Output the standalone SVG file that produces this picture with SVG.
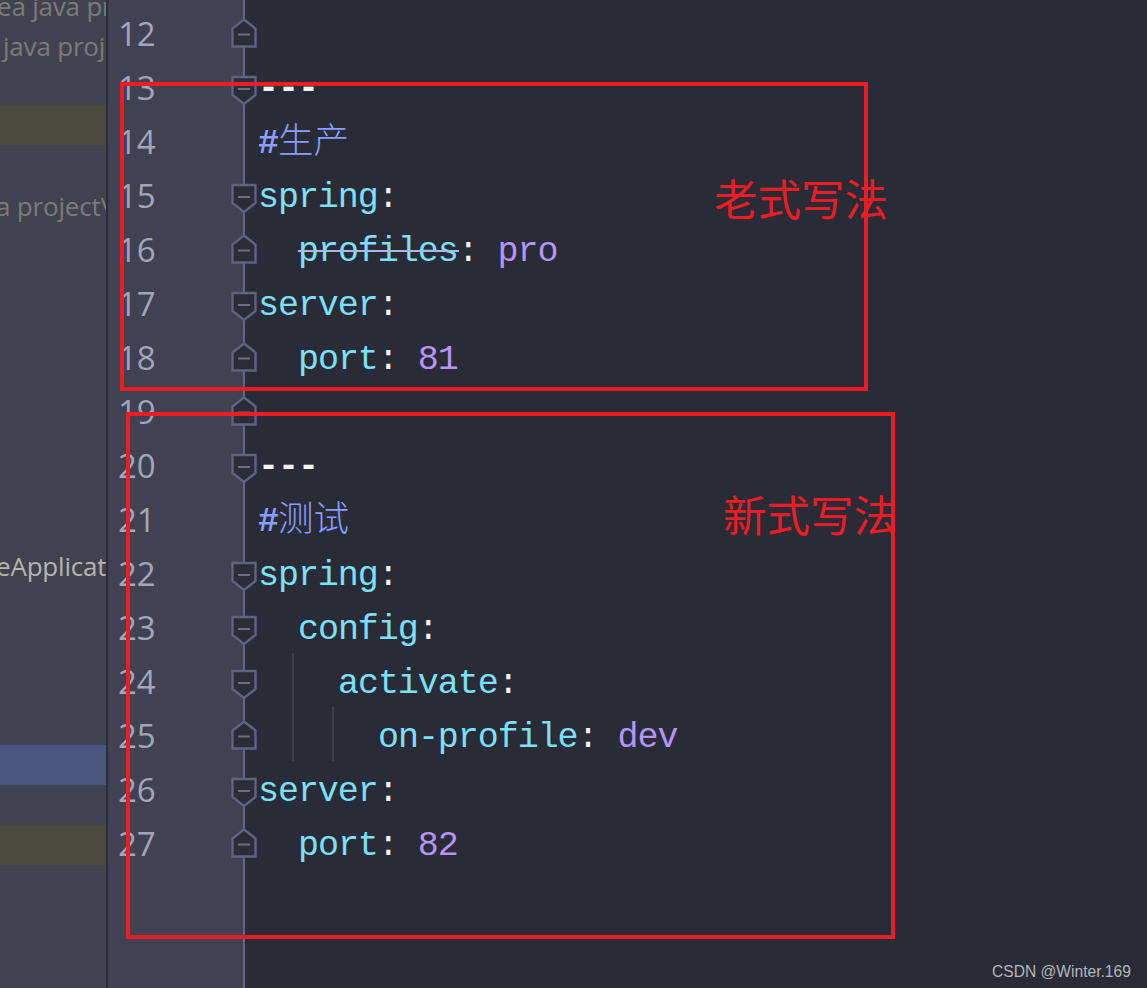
<svg xmlns="http://www.w3.org/2000/svg" width="1147" height="988" viewBox="0 0 1147 988">
<style>
.c{font-family:"Liberation Mono","Noto Sans CJK SC",monospace;font-size:35px;letter-spacing:-1.05px}
.k{fill:#7de0f7}.p{fill:#f2f2ee}.v{fill:#b794f6}.cm{fill:#8a9eff}
.z{font-family:"Noto Sans CJK SC",sans-serif;font-size:35.500px;letter-spacing:0;font-weight:300}
.n{font-family:"Open Sans",sans-serif;font-size:33px;fill:#a3a5b8}
.s{font-family:"Open Sans",sans-serif;font-size:26px;letter-spacing:-.2px;fill:#7b7b78}
.f{fill:#2a2c38;stroke:#5f6280;stroke-width:2.4}
.m{stroke:#6a6d88;stroke-width:2}
.r{fill:none;stroke:#ec1c24;stroke-width:4}
.h{font-family:"Noto Sans CJK SC",sans-serif;font-size:43.500px;fill:#ec1c24}
.g{stroke:#3c3e4b;stroke-width:2}
</style>
<rect width="1147" height="988" fill="#292b36"/>
<g id="sidebar">
<rect x="0" width="106" height="988" fill="#41424f"/>
<rect x="106" width="2" height="988" fill="#2a2c38"/>
<rect x="0" y="105" width="106" height="40" fill="#4c493f"/>
<rect x="0" y="745" width="106" height="40" fill="#4b5680"/>
<rect x="0" y="825" width="106" height="40" fill="#4c493f"/>
<svg x="0" y="0" width="106" height="988" viewBox="0 0 106 988">
<text class="s" x="-3" y="16">ea java pr</text>
<text class="s" x="3" y="56">java proje</text>
<text class="s" x="-4" y="216">a project\</text>
<text class="s" x="-4" y="576" style="fill:#b5b5ae">eApplicati</text>
</svg>
</g>
<g id="gutter">
<rect x="108" width="136" height="988" fill="#404152"/>
<rect x="243" width="2" height="988" fill="#62658a"/>
<text class="n" x="118" y="46">12</text><text class="n" x="118" y="100">13</text><text class="n" x="118" y="154">14</text><text class="n" x="118" y="208">15</text><text class="n" x="118" y="262">16</text><text class="n" x="118" y="316">17</text><text class="n" x="118" y="370">18</text><text class="n" x="118" y="424">19</text><text class="n" x="118" y="478">20</text><text class="n" x="118" y="532">21</text><text class="n" x="118" y="586">22</text><text class="n" x="118" y="640">23</text><text class="n" x="118" y="694">24</text><text class="n" x="118" y="748">25</text><text class="n" x="118" y="802">26</text><text class="n" x="118" y="856">27</text>
</g>
<defs>
<g id="up"><path class="f" d="M-11.500 12V-6L0-15 11.500-6V12Z"/><path class="m" d="M-6 0H6"/></g>
<g id="dn"><path class="f" d="M-11.500-12V6L0 15 11.500 6V-12Z"/><path class="m" d="M-6 0H6"/></g>
</defs>
<g id="folds">
<use href="#up" x="244" y="34.500"/><use href="#dn" x="244" y="89"/><use href="#dn" x="244" y="197"/><use href="#up" x="244" y="250.500"/><use href="#dn" x="244" y="305"/><use href="#up" x="244" y="358.500"/><use href="#up" x="244" y="412.500"/><use href="#dn" x="244" y="467"/><use href="#dn" x="244" y="575"/><use href="#dn" x="244" y="629"/><use href="#dn" x="244" y="683"/><use href="#up" x="244" y="736.500"/><use href="#dn" x="244" y="791"/><use href="#up" x="244" y="844.500"/>
</g>
<g id="indent">
<path class="g" d="M293 653V761M333 707V761"/>
</g>
<g id="code" class="c">
<text x="258" y="98" class="p" font-weight="700">---</text>
<text x="258" y="153" class="cm"><tspan font-weight="700">#</tspan><tspan class="z">生产</tspan></text>
<text x="258" y="207"><tspan class="k">spring</tspan><tspan class="p">:</tspan></text>
<text x="298" y="261"><tspan class="k">profiles</tspan><tspan class="p">: </tspan><tspan class="v">pro</tspan></text>
<path d="M298 251H459" stroke="#a9b8e8" stroke-width="2"/>
<text x="258" y="315"><tspan class="k">server</tspan><tspan class="p">:</tspan></text>
<text x="298" y="369"><tspan class="k">port</tspan><tspan class="p">: </tspan><tspan class="v">81</tspan></text>
<text x="258" y="476" class="p" font-weight="700">---</text>
<text x="258" y="531" class="cm"><tspan font-weight="700">#</tspan><tspan class="z">测试</tspan></text>
<text x="258" y="585"><tspan class="k">spring</tspan><tspan class="p">:</tspan></text>
<text x="298" y="639"><tspan class="k">config</tspan><tspan class="p">:</tspan></text>
<text x="338" y="693"><tspan class="k">activate</tspan><tspan class="p">:</tspan></text>
<text x="378" y="747"><tspan class="k">on-profile</tspan><tspan class="p">: </tspan><tspan class="v">dev</tspan></text>
<text x="258" y="801"><tspan class="k">server</tspan><tspan class="p">:</tspan></text>
<text x="298" y="855"><tspan class="k">port</tspan><tspan class="p">: </tspan><tspan class="v">82</tspan></text>
</g>
<g id="old-style">
<rect class="r" x="122" y="84" width="744" height="305"/>
<text class="h" x="714" y="216">老式写法</text>
</g>
<g id="new-style">
<rect class="r" x="128" y="414" width="765" height="523"/>
<text class="h" x="723" y="532">新式写法</text>
</g>
<text id="watermark" x="992" y="977" font-family="Liberation Sans,sans-serif" font-size="15.600" fill="#b5b6ba">CSDN @Winter.169</text>
</svg>
